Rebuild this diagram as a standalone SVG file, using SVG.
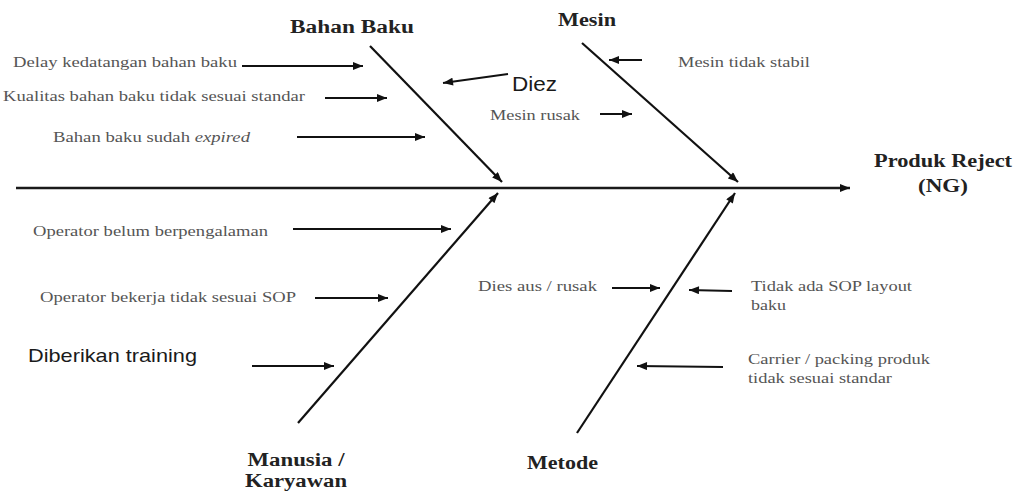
<svg xmlns="http://www.w3.org/2000/svg" width="1036" height="499" viewBox="0 0 1036 499">
<defs>
<style>
.bg{fill:#ffffff}
.cat{font-family:"Liberation Serif","Times New Roman",serif;font-weight:bold;font-size:18px;fill:#222}
.cause{font-family:"Liberation Serif","Times New Roman",serif;font-size:15px;fill:#555}
.note{font-family:"Liberation Sans",Arial,sans-serif;fill:#1a1a1a}
.spine{stroke:#1a1a1a;stroke-width:2.6;fill:none}
.bone{stroke:#111;stroke-width:2.2;fill:none}
.sub{stroke:#111;stroke-width:2;fill:none}
</style>
<marker id="ah" viewBox="0 0 10 8" refX="10" refY="4" markerWidth="11" markerHeight="8" orient="auto" markerUnits="userSpaceOnUse">
<path d="M0,0 L10,4 L0,8 z" fill="#111"/>
</marker>
</defs>
<rect class="bg" x="0" y="0" width="1036" height="499"/>

<g id="connectors">
<line class="spine" x1="16" y1="188" x2="850" y2="188" marker-end="url(#ah)"/>
<line class="bone" x1="370" y1="46" x2="502" y2="182" marker-end="url(#ah)"/>
<line class="bone" x1="582" y1="43" x2="738" y2="182" marker-end="url(#ah)"/>
<line class="bone" x1="298" y1="423" x2="498" y2="193" marker-end="url(#ah)"/>
<line class="bone" x1="577" y1="433" x2="735" y2="193" marker-end="url(#ah)"/>
<line class="sub" x1="242" y1="66" x2="363" y2="66" marker-end="url(#ah)"/>
<line class="sub" x1="325" y1="98" x2="387" y2="98" marker-end="url(#ah)"/>
<line class="sub" x1="297" y1="137" x2="425" y2="137" marker-end="url(#ah)"/>
<line class="sub" x1="508" y1="74" x2="443" y2="83" marker-end="url(#ah)"/>
<line class="sub" x1="600" y1="114" x2="632" y2="114" marker-end="url(#ah)"/>
<line class="sub" x1="642" y1="60" x2="609" y2="60" marker-end="url(#ah)"/>
<line class="sub" x1="293" y1="229" x2="451" y2="229" marker-end="url(#ah)"/>
<line class="sub" x1="315" y1="298" x2="388" y2="298" marker-end="url(#ah)"/>
<line class="sub" x1="252" y1="366" x2="334" y2="366" marker-end="url(#ah)"/>
<line class="sub" x1="612" y1="288" x2="660" y2="288" marker-end="url(#ah)"/>
<line class="sub" x1="732" y1="291" x2="689" y2="290" marker-end="url(#ah)"/>
<line class="sub" x1="723" y1="367" x2="637" y2="366" marker-end="url(#ah)"/>
</g>

<g id="effect">
<text class="cat" x="943" y="167" text-anchor="middle" textLength="138" lengthAdjust="spacingAndGlyphs">Produk Reject</text>
<text class="cat" x="943" y="192" text-anchor="middle" textLength="50" lengthAdjust="spacingAndGlyphs">(NG)</text>
</g>

<g id="bahan-baku">
<text class="cat" x="290" y="33" textLength="124" lengthAdjust="spacingAndGlyphs">Bahan Baku</text>
</g>
<g id="mesin">
<text class="cat" x="558" y="26" textLength="58" lengthAdjust="spacingAndGlyphs">Mesin</text>
</g>
<g id="manusia">
<text class="cat" x="296" y="466" text-anchor="middle" textLength="97" lengthAdjust="spacingAndGlyphs">Manusia /</text>
<text class="cat" x="296" y="487" text-anchor="middle" textLength="102" lengthAdjust="spacingAndGlyphs">Karyawan</text>
</g>
<g id="metode">
<text class="cat" x="527" y="469" textLength="71" lengthAdjust="spacingAndGlyphs">Metode</text>
</g>

<g id="cause-delay"><text class="cause" x="13" y="67" textLength="224" lengthAdjust="spacingAndGlyphs">Delay kedatangan bahan baku</text></g>
<g id="cause-kualitas"><text class="cause" x="3" y="101" textLength="302" lengthAdjust="spacingAndGlyphs">Kualitas bahan baku tidak sesuai standar</text></g>
<g id="cause-expired"><text class="cause" x="53" y="142" textLength="197" lengthAdjust="spacingAndGlyphs">Bahan baku sudah <tspan font-style="italic">expired</tspan></text></g>
<g id="cause-diez"><text class="note" x="512" y="91" font-size="20" textLength="45" lengthAdjust="spacingAndGlyphs">Diez</text></g>
<g id="cause-mesin-rusak"><text class="cause" x="490" y="120" textLength="90" lengthAdjust="spacingAndGlyphs">Mesin rusak</text></g>
<g id="cause-mesin-tidak-stabil"><text class="cause" x="678" y="67" textLength="132" lengthAdjust="spacingAndGlyphs">Mesin tidak stabil</text></g>
<g id="cause-operator-belum"><text class="cause" x="33" y="236" textLength="235" lengthAdjust="spacingAndGlyphs">Operator belum berpengalaman</text></g>
<g id="cause-operator-bekerja"><text class="cause" x="40" y="302" textLength="256" lengthAdjust="spacingAndGlyphs">Operator bekerja tidak sesuai SOP</text></g>
<g id="cause-training"><text class="note" x="28" y="362" font-size="19" textLength="169" lengthAdjust="spacingAndGlyphs">Diberikan training</text></g>
<g id="cause-dies"><text class="cause" x="478" y="291" textLength="119" lengthAdjust="spacingAndGlyphs">Dies aus / rusak</text></g>
<g id="cause-sop-layout">
<text class="cause" x="751" y="291" textLength="161" lengthAdjust="spacingAndGlyphs">Tidak ada SOP layout</text>
<text class="cause" x="751" y="310" textLength="35" lengthAdjust="spacingAndGlyphs">baku</text>
</g>
<g id="cause-carrier">
<text class="cause" x="748" y="364" textLength="182" lengthAdjust="spacingAndGlyphs">Carrier / packing produk</text>
<text class="cause" x="748" y="383" textLength="144" lengthAdjust="spacingAndGlyphs">tidak sesuai standar</text>
</g>
</svg>
